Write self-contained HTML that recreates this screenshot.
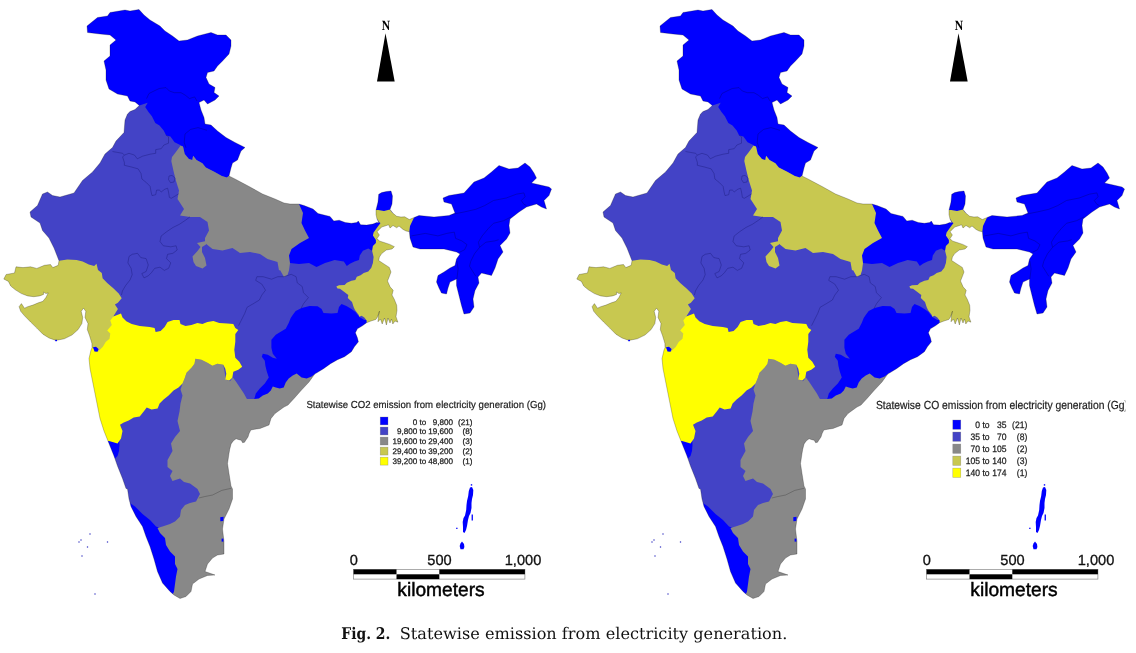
<!DOCTYPE html>
<html><head><meta charset="utf-8"><title>Fig. 2</title>
<style>
html,body{margin:0;padding:0;background:#fff;}
body{width:1136px;height:653px;overflow:hidden;position:relative;font-family:"Liberation Sans",sans-serif;}
svg{position:absolute;left:0;top:0;}
text{text-rendering:geometricPrecision;}
</style></head><body>
<svg width="1136" height="653" viewBox="0 0 1136 653">
<g><mask id="c0" maskUnits="userSpaceOnUse" x="0" y="0" width="568" height="653"><path d="M87,26 L97.5,17.5 L107.5,16 L110,12.5 L125,10 L130,11 L139,9.5 L144,15 L150,20 L160,26 L165,31 L172.5,36 L179,41 L187.5,40 L197.5,36 L211,32.5 L217.5,35 L226,35 L231,40 L231,46 L229,54 L222.5,61 L217.5,66 L214,71 L207.5,72.5 L206,77.5 L209,84 L215,87.5 L214,92.5 L219,96 L215,100 L207.5,104 L204,100 L199,102.5 L201,110 L204,117.5 L205,124 L211,125 L217.5,131 L226,137.5 L235,142.5 L245,147.5 L241,151 L237.5,160 L232.5,163 L231,168 L229,176 L235,179 L250,187 L262.5,194 L275,199 L284,203 L290,204 L299,204 L304,205.5 L313,209 L318,213.5 L326,215.5 L330,216.4 L333.8,221 L339.2,220.2 L345.3,222.5 L351.4,223.3 L356.8,222.5 L358.3,221 L360.6,224.8 L366.7,225.1 L372.9,224 L376.7,222.5 L379,222.8 L377,219 L376,214.5 L376,210 L378,202 L378.7,194.3 L381.7,192.6 L386.3,191.5 L391,191 L392.5,196 L392,204 L390,209.4 L393,213.3 L396.7,216.3 L401,217 L404.7,216.8 L409.3,219.5 L419,215.5 L434,217 L449,215.5 L455,213 L451.5,204 L444,202 L443,198 L449,195.5 L464,193 L474,182 L484,178 L491.5,172 L499,165.5 L509,169 L518,168 L525,163 L530,167 L534,173 L536.5,178 L531.5,183 L549,187 L551.5,189 L549,195.5 L544,200.5 L546.5,209 L541.5,207 L536.5,204 L526.5,207 L519,212 L510,219 L509,225.5 L510,233 L506.5,239 L500,245.5 L503,252 L498,259 L495,268 L491.5,275.5 L481.5,273 L478,277 L479,283 L475,290.5 L473,299 L474,307 L470,313 L464,314 L461.5,305.5 L459,295.5 L456.5,285.5 L456.5,279 L450,282 L448,288 L446.5,294 L441.5,293 L439,288 L436.5,282 L438,275.5 L444,272 L450,268 L455,265.5 L456.5,259 L460,254 L456.5,252 L444,249 L431.5,249 L420,249 L413,247 L410,238 L409.3,231.7 L406,231 L403,229.4 L399,226 L396.7,227.8 L393,225.5 L390,228 L388.6,224.8 L385,226 L381.7,227 L379.4,229.4 L377,231.7 L379.4,235 L377,238.6 L379.4,241 L384,242.5 L389.8,244.4 L394.4,246.7 L392,249 L386.3,250 L381.7,253.6 L379.4,257 L378.7,260.5 L384,264 L389.3,267.4 L391,272 L389.3,276.6 L387.5,281 L390.2,287 L393.2,290.3 L392,295 L394.4,299.5 L396.7,305.3 L397,310.3 L396,316.7 L397.9,322.2 L395,321 L392.8,324 L391.5,319 L390,323 L388,318 L386.4,325 L384.5,318 L382.2,324 L380.5,319 L378,321.8 L378.5,315 L379.5,311.2 L377.5,317 L375.8,319.5 L371,321 L366.6,322.7 L362.4,325.8 L357.4,328.8 L355.4,332.8 L357.4,337.8 L358.4,341.8 L354.4,346.8 L351.4,351.7 L344.5,356.7 L337.5,359.7 L330.5,363.7 L323.5,368.7 L315.6,373.6 L314,375 L309,382 L301.5,390 L294,398.5 L288,405 L284,407 L275,413.5 L271,418.5 L269,425 L260,428.5 L255,429.2 L250.8,430 L249,433.8 L248,437 L245.8,440.2 L244.5,442.3 L242.6,442.7 L241.2,440.2 L238.9,439.7 L236.1,438.8 L233.4,440.7 L231.1,443.9 L229.7,449.4 L229,453.5 L227.5,463.5 L229,473.5 L231,486 L232.5,489 L232.5,499 L229,509 L224,519 L222.5,529 L224,541.5 L224,554 L217.5,555 L212.5,558 L207.5,564 L205,571.5 L215,575 L207.5,575.5 L199,579 L192.5,584 L191,591.5 L186,596.5 L180,598.5 L174,595 L170,591.5 L162.5,583 L157.5,571.5 L154,559 L150,546.5 L146,536.5 L142.5,526.5 L136,516.5 L131,506.5 L129,499 L127.5,489 L126,488.5 L122.5,478.5 L117.5,466 L114,456 L109,443.5 L104,431 L100,418.5 L97.5,406 L95,393.5 L92.5,381 L90,368.5 L89,358.5 L91,350 L92,347.8 L91.9,343.4 L89.6,335.8 L87.3,329.6 L88,323.5 L85,317.4 L85.8,311.3 L83.5,308.2 L81.2,311.3 L82.7,317.4 L81.9,323.5 L78.1,329.6 L72,335 L64.3,338.8 L55.9,340.4 L49,338 L42.9,334.2 L36.8,328.1 L30.6,322 L24.5,315.8 L20.7,311.3 L19.1,306.7 L21.4,303.6 L24.5,308.2 L27.6,306.7 L32.9,305.1 L38.3,302.8 L42.9,301.3 L45.9,297.5 L48.2,292.9 L45.9,293.6 L43.6,292 L43.6,294.4 L39.8,295.9 L33.7,296.7 L27.6,295.9 L21.4,293.6 L15.3,289.8 L10.7,286 L8.4,281.4 L3.8,279.1 L6.1,274.5 L14.5,273 L16,266.8 L23,267.6 L30.6,266.8 L36.8,268.4 L44.4,265.3 L50.5,264.5 L52.8,267.6 L58.2,265.3 L59,260.7 L54,248 L49,238 L42.5,230.5 L40,223 L31,217 L30,212 L37.5,205.5 L42.5,194 L47.5,192 L52.5,195.5 L60,197 L74,193 L82.5,180.5 L92.5,172 L100,163 L105,154 L112.5,147.5 L116,141 L124,132.5 L125,120 L127.5,114 L130,111.6 L135,109.5 L139.3,105.5 L135,101.9 L130,101 L127.5,96 L117.5,94 L109,89 L106,80 L106,70 L104,61 L110,56 L110,45 L116,40 L110,35 L100,34 L87.5,32.5Z" fill="#fff"/></mask><g mask="url(#c0)"><rect x="0" y="0" width="568" height="653" fill="#4343c6"/><path d="M139.3,105.5 L147.7,102.7 L145.2,106.9 L148.5,112 L151.9,116.2 L155.3,122.9 L159.5,125.5 L163.7,130.5 L166.2,135.6 L170.4,136.4 L174.6,142.3 L179.7,144.8 L183,146.5 L184.7,154.1 L188.9,159.1 L192.3,160 L193.1,155.8 L196.5,160 L202.4,163.3 L205.8,167.5 L214.2,171.8 L221.8,176 L226.8,177.6 L232,180 L260,150 L260,0 L60,0 L60,40 L100,90Z" fill="#0000ff"/><path d="M290,200 L390,200 L390,250 L372.1,250.8 L368.3,248.5 L362.9,250.8 L359.8,255.4 L359,260 L354.5,261.5 L349.9,263.8 L346.8,266 L343.8,261.5 L339.2,260.8 L334.6,260 L330,261.5 L325,263 L316.5,267 L309,263 L299,264 L290,263 L280,263Z" fill="#0000ff"/><path d="M292.7,314.9 L295.7,310.9 L301.6,307.9 L309.6,305.9 L317.6,306.3 L321.6,308.9 L323.5,312.9 L331.5,313.5 L337.5,312.9 L339,306.9 L341.5,303.9 L346.4,305.9 L351.4,308.9 L355.4,311.9 L359.4,316.9 L364.4,319.9 L375,319 L375,400 L254.3,410 L254.3,399.1 L255.8,393.5 L259.8,388.6 L264.8,383.6 L268.8,377.6 L266.8,371.6 L265.4,365.7 L264.8,360.7 L261.8,356.7 L262.8,353.7 L267.8,354.7 L272.8,357.7 L276.8,358.7 L272.8,353.7 L271.4,347.7 L271.4,339.8 L275.8,334.8 L280.7,331.8 L285.7,328.8 L288.7,322.9 L290.7,317.9Z" fill="#0000ff"/><path d="M372,185 L400,185 L400,150 L560,150 L560,330 L400,330 L400,240 L372,240Z" fill="#0000ff"/><path d="M120,495 L130,503 L135,506.5 L142.5,514 L150,520 L156,526.5 L160,528 L200,560 L200,610 L120,610Z" fill="#0000ff"/><path d="M100,435 L119,435 L119.5,445 L119,451 L117.5,456 L114.5,459 L100,459Z" fill="#0000ff"/><path d="M171.3,161 L172,157 L175.5,152.4 L180.5,145.7 L183,146.5 L184.7,154.1 L188.9,159.1 L192.3,160 L193.1,155.8 L196.5,160 L202.4,163.3 L205.8,167.5 L214.2,171.8 L221.8,176 L226.8,177.6 L231,174 L240,160 L320,190 L299,204 L303,213 L301.5,223 L305,230.5 L309,238 L300,243 L291.5,249 L289,255.5 L290,263 L289,270.5 L287.5,275 L284,277 L280,270 L279,270.5 L277.5,262 L267.5,259 L260,254 L250,252 L240,253 L232.5,248 L222.5,250.5 L212.5,249 L205,243 L205,238 L209,230.5 L207.5,222 L200,217 L190,217 L180,215.5 L184,209 L177.5,199 L179,190.5 L176,181 L173.5,171Z" fill="#888888"/><path d="M197,243 L200.5,247 L197.5,251 L192.5,256.5 L193.5,262 L196,266 L202.5,268.5 L206.5,265.5 L205,258 L202,252 L202,247 L206,244.5 L206,241Z" fill="#888888"/><path d="M195.4,358.7 L201.4,359.7 L207.4,362.7 L212.4,365.7 L217.4,363.7 L223.3,364.7 L226,379.6 L230,381.2 L232.9,377.6 L235.9,381.6 L239.9,387.6 L243.9,393.5 L246.9,399.1 L254.3,399.1 L258.8,398.5 L262.8,395.5 L267.8,393.5 L270.8,390.6 L272.8,386.6 L275.8,387.6 L279.7,388.6 L283.7,387.6 L285.7,382.6 L288.7,378.6 L292.7,375.6 L296.7,373.6 L301.6,377.6 L306.6,378.6 L311.6,376.6 L315.6,373.6 L330,380 L330,620 L160,620 L172.5,595 L174,591.5 L175,584 L176,576.5 L177.5,569 L175,564 L175,556.5 L170,551.5 L166,545 L165,538 L160,533 L157.5,528 L162.5,526.5 L170,524 L175,521.5 L180,516.5 L181,510 L185,505 L190,503 L196,501.5 L200,494 L197.5,489 L190,483.5 L184,482 L180,478.5 L172.5,481 L170,476 L172.5,471 L167.5,467 L167.5,460 L172.5,451 L171,443.5 L175,437 L180,431 L177.5,421 L179.5,411.5 L180.5,403.5 L182.5,395.6 L180.5,389.6 L182.5,383.6 L184.5,378.7 L186.5,372.7 L191.5,367.7 L194.5,363.7Z" fill="#888888"/><path d="M59,260.7 L67.4,259.5 L76.6,260 L82.7,261.5 L88.8,264.5 L94.2,266 L96.5,263.8 L98,270 L101.8,273 L102.6,278.3 L107.2,283 L113.3,288.3 L118.7,293.6 L121.7,298.2 L117.9,302.8 L114.9,304.4 L117.9,309 L115.6,312.8 L113.3,316.6 L130,330 L130,360 L0,360 L0,250Z" fill="#c8c850"/><path d="M376,210 L378.3,210 L384,211 L390,209.4 L393,213.3 L420,205 L410,226 L409.3,231.7 L410,250 L400,252 L420,340 L366.8,330 L366.6,320.4 L364.3,317.6 L361.6,315.8 L359.3,316.7 L358.8,315 L355,310 L353.8,307.5 L352,302 L347.8,298 L348.3,295 L343.7,291.5 L340,288.7 L337.5,288.5 L336.3,286.5 L339,285.3 L344.6,285 L346.9,282.8 L351.4,280.7 L355.3,280 L356.8,276.8 L360.6,275.3 L363.7,273 L368.3,271.5 L371.3,267.7 L372.9,263 L373.6,257 L372.1,250.8 L372.9,246 L375.9,243 L375.9,240 L372.9,235.5 L373.6,232.4 L377.5,227 L380.5,223 L379.4,222.5 L377,219 L370,214.5Z" fill="#c8c850"/><path d="M91.9,347.8 L97.9,351.8 L102.9,346.8 L105.7,341.9 L109.5,338.8 L110.3,333.5 L107.2,330.4 L111.8,325 L110.3,320.4 L113.3,316.6 L121,313.6 L122.5,317.4 L126.3,321.2 L131.7,323.9 L139.7,325.9 L149.7,326.9 L154.6,327.9 L155.6,331.9 L160.6,330.9 L164.6,326.9 L167.6,321.9 L173.5,319.9 L179.5,319.9 L180.5,323.9 L185.5,325.9 L191.5,324.9 L197.4,322.9 L202.4,323.9 L207.4,321.9 L213.4,320.9 L219.3,322.9 L227.3,323.5 L233.3,323.9 L235.3,327.9 L238.3,329.9 L235.3,333.9 L235.3,341.8 L234.3,349.8 L235.3,357.7 L239.3,361.7 L242.2,366.7 L238.3,369.7 L233.3,371.7 L232.3,377.7 L229.3,380.6 L225.3,379.6 L226.3,373.7 L225.3,368.7 L223.3,364.7 L217.4,363.7 L212.4,365.7 L207.4,362.7 L201.4,359.7 L195.4,358.7 L194.5,363.7 L191.5,367.7 L186.5,372.7 L184.5,378.7 L182.5,383.6 L178.5,387.6 L173.5,390.6 L168.6,395.6 L163.6,399.6 L159.6,403.5 L157.6,408.5 L151.6,409.5 L146.7,407.5 L143.7,411.5 L139.7,416.5 L133.7,417.5 L128.7,420.5 L123.8,422.5 L120,424.7 L122.5,431 L121,438.5 L117.5,443.5 L112.5,442 L109,441 L80,441 L80,347Z" fill="#ffff00"/><path d="M112.5,151.5 L122.6,153.3 L124.4,155.1 L129,153.3 L134.5,155.1 L137.3,158.8 L142.8,156.1 L150.1,154.2 L155.7,153.3 L155.7,149.6 L161.2,148.7 L163.9,145 L168.5,143.2 L168.5,136.8 L165.8,135" fill="none" stroke="#1c1c80" stroke-opacity="0.75" stroke-width="0.6"/><path d="M124.4,155.1 L122.6,157 L124.4,162.5 L124.4,165.3 L131.8,167.1 L138.2,168.9 L141,173.5 L141.9,179 L146.5,182.7 L150.1,186.4 L151.1,191.9 L152,195.6 L155.7,194.7 L156.6,190.1 L159.3,190.1 L161.2,191.9 L164.9,189.2 L167.6,188.2 L168.5,191.9 L169.4,197.4 L171.3,198.3 L175.9,195.6 L178.6,193.8" fill="none" stroke="#1c1c80" stroke-opacity="0.75" stroke-width="0.6"/><path d="M169,176 L172,175.4 L175,178 L174,182 L170.5,182.7 L168.5,179.5 L169,176" fill="none" stroke="#1c1c80" stroke-opacity="0.75" stroke-width="0.6"/><path d="M190,216.8 L185.8,220 L179.4,224.3 L172.9,227.5 L166.5,231.8 L161.1,236.1 L160,241.5 L163.3,245.8 L170.8,246.8 L176.1,245.8 L177.2,250 L172.9,253.3 L167.6,254.3 L166.5,258.6 L170.8,262.9 L168.6,268.3 L164.3,270.4 L160,267.2 L154.7,268.3 L151.5,272.6 L148.3,275.8 L144,277.9 L141.8,273.6 L146.1,271.5 L148.3,265 L146.1,258.6 L140.8,257.6 L137.5,253.3 L132.2,254.3 L129,256.5 L127.9,262.9 L131.1,268.3 L132.2,274.7 L130,280 L125.7,285.4 L122.5,290.8 L121.4,295" fill="none" stroke="#1c1c80" stroke-opacity="0.75" stroke-width="0.6"/><path d="M283.9,276.7 L277.8,276.7 L271.6,279.2 L263.1,276.7 L256.9,276.7 L255.7,280.4 L261.8,284.1 L265.5,290.2 L261.8,295.1 L259.4,300 L253.3,303.7 L247.1,307.3 L244.7,313.5 L241,320.8 L238.6,325.7" fill="none" stroke="#1c1c80" stroke-opacity="0.75" stroke-width="0.6"/><path d="M283.9,276.7 L291.2,274.3 L296.1,276.7 L297.3,282.9 L302.2,286.5 L303.5,292.7 L308.4,297.6 L303.5,303.7 L301,308.6" fill="none" stroke="#1c1c80" stroke-opacity="0.75" stroke-width="0.6"/><path d="M146.6,98.6 L149,93.5 L154,91 L159.2,88.5 L166,87.6 L169.3,91 L174.4,92.7 L181,92.7 L185.3,95.2 L189.5,98.6 L194.6,96.9 L197,101" fill="none" stroke="#000090" stroke-opacity="0.8" stroke-width="0.6"/><path d="M207,130.3 L198,127.6 L190.6,129.4 L185,134 L184.2,142.3 L186,147.8" fill="none" stroke="#000090" stroke-opacity="0.8" stroke-width="0.6"/><path d="M451.8,214.4 L464.5,211.9 L475.8,209.3 L484.7,205.6 L493.5,200.5 L506.2,198 L516.3,194.2 L523.9,192.9 L525.1,196.7 L521.3,200.5 L523.9,204.3 L526.4,205.6" fill="none" stroke="#000090" stroke-opacity="0.8" stroke-width="0.6"/><path d="M411.4,235.9 L425.3,233.4 L437.9,235.9 L446.8,233.4 L454.3,232.1 L455.6,238.4 L461.9,240.9 L467,244.7 L464.5,249.8 L459.4,252.3" fill="none" stroke="#000090" stroke-opacity="0.8" stroke-width="0.6"/><path d="M511.2,216.9 L503.6,220.7 L493.5,223.3 L488.5,228.3 L482.2,235.9 L478.4,242.2 L479.6,247.3 L485.9,242.2 L494.8,240.9 L498.6,239.7" fill="none" stroke="#000090" stroke-opacity="0.8" stroke-width="0.6"/><path d="M479.6,247.3 L474.6,253.6 L470.8,261.2 L469.5,266.2 L475.8,276.3" fill="none" stroke="#000090" stroke-opacity="0.8" stroke-width="0.6"/><path d="M456.9,261.2 L458.1,268.8 L456.9,278.9" fill="none" stroke="#000090" stroke-opacity="0.8" stroke-width="0.6"/><path d="M198.8,498 L205,496.5 L212.6,495 L221.8,490.4 L231,488.3" fill="none" stroke="#444" stroke-opacity="0.7" stroke-width="0.6"/></g><path d="M87,26 L97.5,17.5 L107.5,16 L110,12.5 L125,10 L130,11 L139,9.5 L144,15 L150,20 L160,26 L165,31 L172.5,36 L179,41 L187.5,40 L197.5,36 L211,32.5 L217.5,35 L226,35 L231,40 L231,46 L229,54 L222.5,61 L217.5,66 L214,71 L207.5,72.5 L206,77.5 L209,84 L215,87.5 L214,92.5 L219,96 L215,100 L207.5,104 L204,100 L199,102.5 L201,110 L204,117.5 L205,124 L211,125 L217.5,131 L226,137.5 L235,142.5 L245,147.5 L241,151 L237.5,160 L232.5,163 L231,168 L229,176 L235,179 L250,187 L262.5,194 L275,199 L284,203 L290,204 L299,204 L304,205.5 L313,209 L318,213.5 L326,215.5 L330,216.4 L333.8,221 L339.2,220.2 L345.3,222.5 L351.4,223.3 L356.8,222.5 L358.3,221 L360.6,224.8 L366.7,225.1 L372.9,224 L376.7,222.5 L379,222.8 L377,219 L376,214.5 L376,210 L378,202 L378.7,194.3 L381.7,192.6 L386.3,191.5 L391,191 L392.5,196 L392,204 L390,209.4 L393,213.3 L396.7,216.3 L401,217 L404.7,216.8 L409.3,219.5 L419,215.5 L434,217 L449,215.5 L455,213 L451.5,204 L444,202 L443,198 L449,195.5 L464,193 L474,182 L484,178 L491.5,172 L499,165.5 L509,169 L518,168 L525,163 L530,167 L534,173 L536.5,178 L531.5,183 L549,187 L551.5,189 L549,195.5 L544,200.5 L546.5,209 L541.5,207 L536.5,204 L526.5,207 L519,212 L510,219 L509,225.5 L510,233 L506.5,239 L500,245.5 L503,252 L498,259 L495,268 L491.5,275.5 L481.5,273 L478,277 L479,283 L475,290.5 L473,299 L474,307 L470,313 L464,314 L461.5,305.5 L459,295.5 L456.5,285.5 L456.5,279 L450,282 L448,288 L446.5,294 L441.5,293 L439,288 L436.5,282 L438,275.5 L444,272 L450,268 L455,265.5 L456.5,259 L460,254 L456.5,252 L444,249 L431.5,249 L420,249 L413,247 L410,238 L409.3,231.7 L406,231 L403,229.4 L399,226 L396.7,227.8 L393,225.5 L390,228 L388.6,224.8 L385,226 L381.7,227 L379.4,229.4 L377,231.7 L379.4,235 L377,238.6 L379.4,241 L384,242.5 L389.8,244.4 L394.4,246.7 L392,249 L386.3,250 L381.7,253.6 L379.4,257 L378.7,260.5 L384,264 L389.3,267.4 L391,272 L389.3,276.6 L387.5,281 L390.2,287 L393.2,290.3 L392,295 L394.4,299.5 L396.7,305.3 L397,310.3 L396,316.7 L397.9,322.2 L395,321 L392.8,324 L391.5,319 L390,323 L388,318 L386.4,325 L384.5,318 L382.2,324 L380.5,319 L378,321.8 L378.5,315 L379.5,311.2 L377.5,317 L375.8,319.5 L371,321 L366.6,322.7 L362.4,325.8 L357.4,328.8 L355.4,332.8 L357.4,337.8 L358.4,341.8 L354.4,346.8 L351.4,351.7 L344.5,356.7 L337.5,359.7 L330.5,363.7 L323.5,368.7 L315.6,373.6 L314,375 L309,382 L301.5,390 L294,398.5 L288,405 L284,407 L275,413.5 L271,418.5 L269,425 L260,428.5 L255,429.2 L250.8,430 L249,433.8 L248,437 L245.8,440.2 L244.5,442.3 L242.6,442.7 L241.2,440.2 L238.9,439.7 L236.1,438.8 L233.4,440.7 L231.1,443.9 L229.7,449.4 L229,453.5 L227.5,463.5 L229,473.5 L231,486 L232.5,489 L232.5,499 L229,509 L224,519 L222.5,529 L224,541.5 L224,554 L217.5,555 L212.5,558 L207.5,564 L205,571.5 L215,575 L207.5,575.5 L199,579 L192.5,584 L191,591.5 L186,596.5 L180,598.5 L174,595 L170,591.5 L162.5,583 L157.5,571.5 L154,559 L150,546.5 L146,536.5 L142.5,526.5 L136,516.5 L131,506.5 L129,499 L127.5,489 L126,488.5 L122.5,478.5 L117.5,466 L114,456 L109,443.5 L104,431 L100,418.5 L97.5,406 L95,393.5 L92.5,381 L90,368.5 L89,358.5 L91,350 L92,347.8 L91.9,343.4 L89.6,335.8 L87.3,329.6 L88,323.5 L85,317.4 L85.8,311.3 L83.5,308.2 L81.2,311.3 L82.7,317.4 L81.9,323.5 L78.1,329.6 L72,335 L64.3,338.8 L55.9,340.4 L49,338 L42.9,334.2 L36.8,328.1 L30.6,322 L24.5,315.8 L20.7,311.3 L19.1,306.7 L21.4,303.6 L24.5,308.2 L27.6,306.7 L32.9,305.1 L38.3,302.8 L42.9,301.3 L45.9,297.5 L48.2,292.9 L45.9,293.6 L43.6,292 L43.6,294.4 L39.8,295.9 L33.7,296.7 L27.6,295.9 L21.4,293.6 L15.3,289.8 L10.7,286 L8.4,281.4 L3.8,279.1 L6.1,274.5 L14.5,273 L16,266.8 L23,267.6 L30.6,266.8 L36.8,268.4 L44.4,265.3 L50.5,264.5 L52.8,267.6 L58.2,265.3 L59,260.7 L54,248 L49,238 L42.5,230.5 L40,223 L31,217 L30,212 L37.5,205.5 L42.5,194 L47.5,192 L52.5,195.5 L60,197 L74,193 L82.5,180.5 L92.5,172 L100,163 L105,154 L112.5,147.5 L116,141 L124,132.5 L125,120 L127.5,114 L130,111.6 L135,109.5 L139.3,105.5 L135,101.9 L130,101 L127.5,96 L117.5,94 L109,89 L106,80 L106,70 L104,61 L110,56 L110,45 L116,40 L110,35 L100,34 L87.5,32.5Z" fill="none" stroke="#000" stroke-opacity="0.3" stroke-width="0.8"/><path d="M470,487.5 L472,487 L473.3,490 L473,495 L472,499 L471.5,503 L471.5,508 L470.5,513 L469,516 L468,520 L467,526 L466,530 L464.5,533 L463,532 L463,527 L462.7,522 L463.5,518 L465,515.5 L466.2,510 L466.5,505 L467,501 L468.2,496 L468.8,491Z" fill="#0000ff"/><path d="M462,541.6 L464,544 L464.4,547 L463.5,549.3 L460.5,549.3 L459.7,546 L460.5,543.5Z" fill="#0000ff"/><path d="M93,347.2 L96,346.8 L98.6,349 L97.5,351.8 L94.5,351.5 L93.8,349.5Z" fill="#0000ff"/><rect x="55.2" y="339.8" width="1.8" height="1.4" fill="#0000ff"/><path d="M220.2,517.3 L223.6,516.8 L223.2,521 L220.4,521.2Z" fill="#0000ff"/><rect x="221.6" y="538.6" width="1.8" height="3" fill="#0000ff"/><rect x="471.6" y="514.5" width="1.3" height="6" fill="#0000ff"/><rect x="456.2" y="527.7" width="1.3" height="1.3" fill="#0000ff"/><rect x="470.8" y="484.2" width="1.4" height="1.4" fill="#0000ff"/><circle cx="90" cy="534" r="0.75" fill="#3a3ac4"/><circle cx="81" cy="540" r="0.75" fill="#3a3ac4"/><circle cx="79" cy="542" r="0.75" fill="#3a3ac4"/><circle cx="87.5" cy="547" r="0.75" fill="#3a3ac4"/><circle cx="107.5" cy="542" r="0.75" fill="#3a3ac4"/><circle cx="82" cy="556" r="0.75" fill="#3a3ac4"/><circle cx="95" cy="594" r="0.75" fill="#3a3ac4"/></g>
<g transform="translate(573,0)"><mask id="c1" maskUnits="userSpaceOnUse" x="0" y="0" width="568" height="653"><path d="M87,26 L97.5,17.5 L107.5,16 L110,12.5 L125,10 L130,11 L139,9.5 L144,15 L150,20 L160,26 L165,31 L172.5,36 L179,41 L187.5,40 L197.5,36 L211,32.5 L217.5,35 L226,35 L231,40 L231,46 L229,54 L222.5,61 L217.5,66 L214,71 L207.5,72.5 L206,77.5 L209,84 L215,87.5 L214,92.5 L219,96 L215,100 L207.5,104 L204,100 L199,102.5 L201,110 L204,117.5 L205,124 L211,125 L217.5,131 L226,137.5 L235,142.5 L245,147.5 L241,151 L237.5,160 L232.5,163 L231,168 L229,176 L235,179 L250,187 L262.5,194 L275,199 L284,203 L290,204 L299,204 L304,205.5 L313,209 L318,213.5 L326,215.5 L330,216.4 L333.8,221 L339.2,220.2 L345.3,222.5 L351.4,223.3 L356.8,222.5 L358.3,221 L360.6,224.8 L366.7,225.1 L372.9,224 L376.7,222.5 L379,222.8 L377,219 L376,214.5 L376,210 L378,202 L378.7,194.3 L381.7,192.6 L386.3,191.5 L391,191 L392.5,196 L392,204 L390,209.4 L393,213.3 L396.7,216.3 L401,217 L404.7,216.8 L409.3,219.5 L419,215.5 L434,217 L449,215.5 L455,213 L451.5,204 L444,202 L443,198 L449,195.5 L464,193 L474,182 L484,178 L491.5,172 L499,165.5 L509,169 L518,168 L525,163 L530,167 L534,173 L536.5,178 L531.5,183 L549,187 L551.5,189 L549,195.5 L544,200.5 L546.5,209 L541.5,207 L536.5,204 L526.5,207 L519,212 L510,219 L509,225.5 L510,233 L506.5,239 L500,245.5 L503,252 L498,259 L495,268 L491.5,275.5 L481.5,273 L478,277 L479,283 L475,290.5 L473,299 L474,307 L470,313 L464,314 L461.5,305.5 L459,295.5 L456.5,285.5 L456.5,279 L450,282 L448,288 L446.5,294 L441.5,293 L439,288 L436.5,282 L438,275.5 L444,272 L450,268 L455,265.5 L456.5,259 L460,254 L456.5,252 L444,249 L431.5,249 L420,249 L413,247 L410,238 L409.3,231.7 L406,231 L403,229.4 L399,226 L396.7,227.8 L393,225.5 L390,228 L388.6,224.8 L385,226 L381.7,227 L379.4,229.4 L377,231.7 L379.4,235 L377,238.6 L379.4,241 L384,242.5 L389.8,244.4 L394.4,246.7 L392,249 L386.3,250 L381.7,253.6 L379.4,257 L378.7,260.5 L384,264 L389.3,267.4 L391,272 L389.3,276.6 L387.5,281 L390.2,287 L393.2,290.3 L392,295 L394.4,299.5 L396.7,305.3 L397,310.3 L396,316.7 L397.9,322.2 L395,321 L392.8,324 L391.5,319 L390,323 L388,318 L386.4,325 L384.5,318 L382.2,324 L380.5,319 L378,321.8 L378.5,315 L379.5,311.2 L377.5,317 L375.8,319.5 L371,321 L366.6,322.7 L362.4,325.8 L357.4,328.8 L355.4,332.8 L357.4,337.8 L358.4,341.8 L354.4,346.8 L351.4,351.7 L344.5,356.7 L337.5,359.7 L330.5,363.7 L323.5,368.7 L315.6,373.6 L314,375 L309,382 L301.5,390 L294,398.5 L288,405 L284,407 L275,413.5 L271,418.5 L269,425 L260,428.5 L255,429.2 L250.8,430 L249,433.8 L248,437 L245.8,440.2 L244.5,442.3 L242.6,442.7 L241.2,440.2 L238.9,439.7 L236.1,438.8 L233.4,440.7 L231.1,443.9 L229.7,449.4 L229,453.5 L227.5,463.5 L229,473.5 L231,486 L232.5,489 L232.5,499 L229,509 L224,519 L222.5,529 L224,541.5 L224,554 L217.5,555 L212.5,558 L207.5,564 L205,571.5 L215,575 L207.5,575.5 L199,579 L192.5,584 L191,591.5 L186,596.5 L180,598.5 L174,595 L170,591.5 L162.5,583 L157.5,571.5 L154,559 L150,546.5 L146,536.5 L142.5,526.5 L136,516.5 L131,506.5 L129,499 L127.5,489 L126,488.5 L122.5,478.5 L117.5,466 L114,456 L109,443.5 L104,431 L100,418.5 L97.5,406 L95,393.5 L92.5,381 L90,368.5 L89,358.5 L91,350 L92,347.8 L91.9,343.4 L89.6,335.8 L87.3,329.6 L88,323.5 L85,317.4 L85.8,311.3 L83.5,308.2 L81.2,311.3 L82.7,317.4 L81.9,323.5 L78.1,329.6 L72,335 L64.3,338.8 L55.9,340.4 L49,338 L42.9,334.2 L36.8,328.1 L30.6,322 L24.5,315.8 L20.7,311.3 L19.1,306.7 L21.4,303.6 L24.5,308.2 L27.6,306.7 L32.9,305.1 L38.3,302.8 L42.9,301.3 L45.9,297.5 L48.2,292.9 L45.9,293.6 L43.6,292 L43.6,294.4 L39.8,295.9 L33.7,296.7 L27.6,295.9 L21.4,293.6 L15.3,289.8 L10.7,286 L8.4,281.4 L3.8,279.1 L6.1,274.5 L14.5,273 L16,266.8 L23,267.6 L30.6,266.8 L36.8,268.4 L44.4,265.3 L50.5,264.5 L52.8,267.6 L58.2,265.3 L59,260.7 L54,248 L49,238 L42.5,230.5 L40,223 L31,217 L30,212 L37.5,205.5 L42.5,194 L47.5,192 L52.5,195.5 L60,197 L74,193 L82.5,180.5 L92.5,172 L100,163 L105,154 L112.5,147.5 L116,141 L124,132.5 L125,120 L127.5,114 L130,111.6 L135,109.5 L139.3,105.5 L135,101.9 L130,101 L127.5,96 L117.5,94 L109,89 L106,80 L106,70 L104,61 L110,56 L110,45 L116,40 L110,35 L100,34 L87.5,32.5Z" fill="#fff"/></mask><g mask="url(#c1)"><rect x="0" y="0" width="568" height="653" fill="#4343c6"/><path d="M139.3,105.5 L147.7,102.7 L145.2,106.9 L148.5,112 L151.9,116.2 L155.3,122.9 L159.5,125.5 L163.7,130.5 L166.2,135.6 L170.4,136.4 L174.6,142.3 L179.7,144.8 L183,146.5 L184.7,154.1 L188.9,159.1 L192.3,160 L193.1,155.8 L196.5,160 L202.4,163.3 L205.8,167.5 L214.2,171.8 L221.8,176 L226.8,177.6 L232,180 L260,150 L260,0 L60,0 L60,40 L100,90Z" fill="#0000ff"/><path d="M290,200 L390,200 L390,250 L372.1,250.8 L368.3,248.5 L362.9,250.8 L359.8,255.4 L359,260 L354.5,261.5 L349.9,263.8 L346.8,266 L343.8,261.5 L339.2,260.8 L334.6,260 L330,261.5 L325,263 L316.5,267 L309,263 L299,264 L290,263 L280,263Z" fill="#0000ff"/><path d="M292.7,314.9 L295.7,310.9 L301.6,307.9 L309.6,305.9 L317.6,306.3 L321.6,308.9 L323.5,312.9 L331.5,313.5 L337.5,312.9 L339,306.9 L341.5,303.9 L346.4,305.9 L351.4,308.9 L355.4,311.9 L359.4,316.9 L364.4,319.9 L375,319 L375,400 L254.3,410 L254.3,399.1 L255.8,393.5 L259.8,388.6 L264.8,383.6 L268.8,377.6 L266.8,371.6 L265.4,365.7 L264.8,360.7 L261.8,356.7 L262.8,353.7 L267.8,354.7 L272.8,357.7 L276.8,358.7 L272.8,353.7 L271.4,347.7 L271.4,339.8 L275.8,334.8 L280.7,331.8 L285.7,328.8 L288.7,322.9 L290.7,317.9Z" fill="#0000ff"/><path d="M372,185 L400,185 L400,150 L560,150 L560,330 L400,330 L400,240 L372,240Z" fill="#0000ff"/><path d="M120,495 L130,503 L135,506.5 L142.5,514 L150,520 L156,526.5 L160,528 L200,560 L200,610 L120,610Z" fill="#0000ff"/><path d="M100,435 L119,435 L119.5,445 L119,451 L117.5,456 L114.5,459 L100,459Z" fill="#0000ff"/><path d="M171.3,161 L172,157 L175.5,152.4 L180.5,145.7 L183,146.5 L184.7,154.1 L188.9,159.1 L192.3,160 L193.1,155.8 L196.5,160 L202.4,163.3 L205.8,167.5 L214.2,171.8 L221.8,176 L226.8,177.6 L231,174 L240,160 L320,190 L299,204 L303,213 L301.5,223 L305,230.5 L309,238 L300,243 L291.5,249 L289,255.5 L290,263 L289,270.5 L287.5,275 L284,277 L280,270 L279,270.5 L277.5,262 L267.5,259 L260,254 L250,252 L240,253 L232.5,248 L222.5,250.5 L212.5,249 L205,243 L205,238 L209,230.5 L207.5,222 L200,217 L190,217 L180,215.5 L184,209 L177.5,199 L179,190.5 L176,181 L173.5,171Z" fill="#c8c850"/><path d="M197,243 L200.5,247 L197.5,251 L192.5,256.5 L193.5,262 L196,266 L202.5,268.5 L206.5,265.5 L205,258 L202,252 L202,247 L206,244.5 L206,241Z" fill="#c8c850"/><path d="M195.4,358.7 L201.4,359.7 L207.4,362.7 L212.4,365.7 L217.4,363.7 L223.3,364.7 L226,379.6 L230,381.2 L232.9,377.6 L235.9,381.6 L239.9,387.6 L243.9,393.5 L246.9,399.1 L254.3,399.1 L258.8,398.5 L262.8,395.5 L267.8,393.5 L270.8,390.6 L272.8,386.6 L275.8,387.6 L279.7,388.6 L283.7,387.6 L285.7,382.6 L288.7,378.6 L292.7,375.6 L296.7,373.6 L301.6,377.6 L306.6,378.6 L311.6,376.6 L315.6,373.6 L330,380 L330,620 L160,620 L172.5,595 L174,591.5 L175,584 L176,576.5 L177.5,569 L175,564 L175,556.5 L170,551.5 L166,545 L165,538 L160,533 L157.5,528 L162.5,526.5 L170,524 L175,521.5 L180,516.5 L181,510 L185,505 L190,503 L196,501.5 L200,494 L197.5,489 L190,483.5 L184,482 L180,478.5 L172.5,481 L170,476 L172.5,471 L167.5,467 L167.5,460 L172.5,451 L171,443.5 L175,437 L180,431 L177.5,421 L179.5,411.5 L180.5,403.5 L182.5,395.6 L180.5,389.6 L182.5,383.6 L184.5,378.7 L186.5,372.7 L191.5,367.7 L194.5,363.7Z" fill="#888888"/><path d="M59,260.7 L67.4,259.5 L76.6,260 L82.7,261.5 L88.8,264.5 L94.2,266 L96.5,263.8 L98,270 L101.8,273 L102.6,278.3 L107.2,283 L113.3,288.3 L118.7,293.6 L121.7,298.2 L117.9,302.8 L114.9,304.4 L117.9,309 L115.6,312.8 L113.3,316.6 L130,330 L130,360 L0,360 L0,250Z" fill="#c8c850"/><path d="M376,210 L378.3,210 L384,211 L390,209.4 L393,213.3 L420,205 L410,226 L409.3,231.7 L410,250 L400,252 L420,340 L366.8,330 L366.6,320.4 L364.3,317.6 L361.6,315.8 L359.3,316.7 L358.8,315 L355,310 L353.8,307.5 L352,302 L347.8,298 L348.3,295 L343.7,291.5 L340,288.7 L337.5,288.5 L336.3,286.5 L339,285.3 L344.6,285 L346.9,282.8 L351.4,280.7 L355.3,280 L356.8,276.8 L360.6,275.3 L363.7,273 L368.3,271.5 L371.3,267.7 L372.9,263 L373.6,257 L372.1,250.8 L372.9,246 L375.9,243 L375.9,240 L372.9,235.5 L373.6,232.4 L377.5,227 L380.5,223 L379.4,222.5 L377,219 L370,214.5Z" fill="#c8c850"/><path d="M91.9,347.8 L97.9,351.8 L102.9,346.8 L105.7,341.9 L109.5,338.8 L110.3,333.5 L107.2,330.4 L111.8,325 L110.3,320.4 L113.3,316.6 L121,313.6 L122.5,317.4 L126.3,321.2 L131.7,323.9 L139.7,325.9 L149.7,326.9 L154.6,327.9 L155.6,331.9 L160.6,330.9 L164.6,326.9 L167.6,321.9 L173.5,319.9 L179.5,319.9 L180.5,323.9 L185.5,325.9 L191.5,324.9 L197.4,322.9 L202.4,323.9 L207.4,321.9 L213.4,320.9 L219.3,322.9 L227.3,323.5 L233.3,323.9 L235.3,327.9 L238.3,329.9 L235.3,333.9 L235.3,341.8 L234.3,349.8 L235.3,357.7 L239.3,361.7 L242.2,366.7 L238.3,369.7 L233.3,371.7 L232.3,377.7 L229.3,380.6 L225.3,379.6 L226.3,373.7 L225.3,368.7 L223.3,364.7 L217.4,363.7 L212.4,365.7 L207.4,362.7 L201.4,359.7 L195.4,358.7 L194.5,363.7 L191.5,367.7 L186.5,372.7 L184.5,378.7 L182.5,383.6 L178.5,387.6 L173.5,390.6 L168.6,395.6 L163.6,399.6 L159.6,403.5 L157.6,408.5 L151.6,409.5 L146.7,407.5 L143.7,411.5 L139.7,416.5 L133.7,417.5 L128.7,420.5 L123.8,422.5 L120,424.7 L122.5,431 L121,438.5 L117.5,443.5 L112.5,442 L109,441 L80,441 L80,347Z" fill="#ffff00"/><path d="M112.5,151.5 L122.6,153.3 L124.4,155.1 L129,153.3 L134.5,155.1 L137.3,158.8 L142.8,156.1 L150.1,154.2 L155.7,153.3 L155.7,149.6 L161.2,148.7 L163.9,145 L168.5,143.2 L168.5,136.8 L165.8,135" fill="none" stroke="#1c1c80" stroke-opacity="0.75" stroke-width="0.6"/><path d="M124.4,155.1 L122.6,157 L124.4,162.5 L124.4,165.3 L131.8,167.1 L138.2,168.9 L141,173.5 L141.9,179 L146.5,182.7 L150.1,186.4 L151.1,191.9 L152,195.6 L155.7,194.7 L156.6,190.1 L159.3,190.1 L161.2,191.9 L164.9,189.2 L167.6,188.2 L168.5,191.9 L169.4,197.4 L171.3,198.3 L175.9,195.6 L178.6,193.8" fill="none" stroke="#1c1c80" stroke-opacity="0.75" stroke-width="0.6"/><path d="M169,176 L172,175.4 L175,178 L174,182 L170.5,182.7 L168.5,179.5 L169,176" fill="none" stroke="#1c1c80" stroke-opacity="0.75" stroke-width="0.6"/><path d="M190,216.8 L185.8,220 L179.4,224.3 L172.9,227.5 L166.5,231.8 L161.1,236.1 L160,241.5 L163.3,245.8 L170.8,246.8 L176.1,245.8 L177.2,250 L172.9,253.3 L167.6,254.3 L166.5,258.6 L170.8,262.9 L168.6,268.3 L164.3,270.4 L160,267.2 L154.7,268.3 L151.5,272.6 L148.3,275.8 L144,277.9 L141.8,273.6 L146.1,271.5 L148.3,265 L146.1,258.6 L140.8,257.6 L137.5,253.3 L132.2,254.3 L129,256.5 L127.9,262.9 L131.1,268.3 L132.2,274.7 L130,280 L125.7,285.4 L122.5,290.8 L121.4,295" fill="none" stroke="#1c1c80" stroke-opacity="0.75" stroke-width="0.6"/><path d="M283.9,276.7 L277.8,276.7 L271.6,279.2 L263.1,276.7 L256.9,276.7 L255.7,280.4 L261.8,284.1 L265.5,290.2 L261.8,295.1 L259.4,300 L253.3,303.7 L247.1,307.3 L244.7,313.5 L241,320.8 L238.6,325.7" fill="none" stroke="#1c1c80" stroke-opacity="0.75" stroke-width="0.6"/><path d="M283.9,276.7 L291.2,274.3 L296.1,276.7 L297.3,282.9 L302.2,286.5 L303.5,292.7 L308.4,297.6 L303.5,303.7 L301,308.6" fill="none" stroke="#1c1c80" stroke-opacity="0.75" stroke-width="0.6"/><path d="M146.6,98.6 L149,93.5 L154,91 L159.2,88.5 L166,87.6 L169.3,91 L174.4,92.7 L181,92.7 L185.3,95.2 L189.5,98.6 L194.6,96.9 L197,101" fill="none" stroke="#000090" stroke-opacity="0.8" stroke-width="0.6"/><path d="M207,130.3 L198,127.6 L190.6,129.4 L185,134 L184.2,142.3 L186,147.8" fill="none" stroke="#000090" stroke-opacity="0.8" stroke-width="0.6"/><path d="M451.8,214.4 L464.5,211.9 L475.8,209.3 L484.7,205.6 L493.5,200.5 L506.2,198 L516.3,194.2 L523.9,192.9 L525.1,196.7 L521.3,200.5 L523.9,204.3 L526.4,205.6" fill="none" stroke="#000090" stroke-opacity="0.8" stroke-width="0.6"/><path d="M411.4,235.9 L425.3,233.4 L437.9,235.9 L446.8,233.4 L454.3,232.1 L455.6,238.4 L461.9,240.9 L467,244.7 L464.5,249.8 L459.4,252.3" fill="none" stroke="#000090" stroke-opacity="0.8" stroke-width="0.6"/><path d="M511.2,216.9 L503.6,220.7 L493.5,223.3 L488.5,228.3 L482.2,235.9 L478.4,242.2 L479.6,247.3 L485.9,242.2 L494.8,240.9 L498.6,239.7" fill="none" stroke="#000090" stroke-opacity="0.8" stroke-width="0.6"/><path d="M479.6,247.3 L474.6,253.6 L470.8,261.2 L469.5,266.2 L475.8,276.3" fill="none" stroke="#000090" stroke-opacity="0.8" stroke-width="0.6"/><path d="M456.9,261.2 L458.1,268.8 L456.9,278.9" fill="none" stroke="#000090" stroke-opacity="0.8" stroke-width="0.6"/><path d="M198.8,498 L205,496.5 L212.6,495 L221.8,490.4 L231,488.3" fill="none" stroke="#444" stroke-opacity="0.7" stroke-width="0.6"/></g><path d="M87,26 L97.5,17.5 L107.5,16 L110,12.5 L125,10 L130,11 L139,9.5 L144,15 L150,20 L160,26 L165,31 L172.5,36 L179,41 L187.5,40 L197.5,36 L211,32.5 L217.5,35 L226,35 L231,40 L231,46 L229,54 L222.5,61 L217.5,66 L214,71 L207.5,72.5 L206,77.5 L209,84 L215,87.5 L214,92.5 L219,96 L215,100 L207.5,104 L204,100 L199,102.5 L201,110 L204,117.5 L205,124 L211,125 L217.5,131 L226,137.5 L235,142.5 L245,147.5 L241,151 L237.5,160 L232.5,163 L231,168 L229,176 L235,179 L250,187 L262.5,194 L275,199 L284,203 L290,204 L299,204 L304,205.5 L313,209 L318,213.5 L326,215.5 L330,216.4 L333.8,221 L339.2,220.2 L345.3,222.5 L351.4,223.3 L356.8,222.5 L358.3,221 L360.6,224.8 L366.7,225.1 L372.9,224 L376.7,222.5 L379,222.8 L377,219 L376,214.5 L376,210 L378,202 L378.7,194.3 L381.7,192.6 L386.3,191.5 L391,191 L392.5,196 L392,204 L390,209.4 L393,213.3 L396.7,216.3 L401,217 L404.7,216.8 L409.3,219.5 L419,215.5 L434,217 L449,215.5 L455,213 L451.5,204 L444,202 L443,198 L449,195.5 L464,193 L474,182 L484,178 L491.5,172 L499,165.5 L509,169 L518,168 L525,163 L530,167 L534,173 L536.5,178 L531.5,183 L549,187 L551.5,189 L549,195.5 L544,200.5 L546.5,209 L541.5,207 L536.5,204 L526.5,207 L519,212 L510,219 L509,225.5 L510,233 L506.5,239 L500,245.5 L503,252 L498,259 L495,268 L491.5,275.5 L481.5,273 L478,277 L479,283 L475,290.5 L473,299 L474,307 L470,313 L464,314 L461.5,305.5 L459,295.5 L456.5,285.5 L456.5,279 L450,282 L448,288 L446.5,294 L441.5,293 L439,288 L436.5,282 L438,275.5 L444,272 L450,268 L455,265.5 L456.5,259 L460,254 L456.5,252 L444,249 L431.5,249 L420,249 L413,247 L410,238 L409.3,231.7 L406,231 L403,229.4 L399,226 L396.7,227.8 L393,225.5 L390,228 L388.6,224.8 L385,226 L381.7,227 L379.4,229.4 L377,231.7 L379.4,235 L377,238.6 L379.4,241 L384,242.5 L389.8,244.4 L394.4,246.7 L392,249 L386.3,250 L381.7,253.6 L379.4,257 L378.7,260.5 L384,264 L389.3,267.4 L391,272 L389.3,276.6 L387.5,281 L390.2,287 L393.2,290.3 L392,295 L394.4,299.5 L396.7,305.3 L397,310.3 L396,316.7 L397.9,322.2 L395,321 L392.8,324 L391.5,319 L390,323 L388,318 L386.4,325 L384.5,318 L382.2,324 L380.5,319 L378,321.8 L378.5,315 L379.5,311.2 L377.5,317 L375.8,319.5 L371,321 L366.6,322.7 L362.4,325.8 L357.4,328.8 L355.4,332.8 L357.4,337.8 L358.4,341.8 L354.4,346.8 L351.4,351.7 L344.5,356.7 L337.5,359.7 L330.5,363.7 L323.5,368.7 L315.6,373.6 L314,375 L309,382 L301.5,390 L294,398.5 L288,405 L284,407 L275,413.5 L271,418.5 L269,425 L260,428.5 L255,429.2 L250.8,430 L249,433.8 L248,437 L245.8,440.2 L244.5,442.3 L242.6,442.7 L241.2,440.2 L238.9,439.7 L236.1,438.8 L233.4,440.7 L231.1,443.9 L229.7,449.4 L229,453.5 L227.5,463.5 L229,473.5 L231,486 L232.5,489 L232.5,499 L229,509 L224,519 L222.5,529 L224,541.5 L224,554 L217.5,555 L212.5,558 L207.5,564 L205,571.5 L215,575 L207.5,575.5 L199,579 L192.5,584 L191,591.5 L186,596.5 L180,598.5 L174,595 L170,591.5 L162.5,583 L157.5,571.5 L154,559 L150,546.5 L146,536.5 L142.5,526.5 L136,516.5 L131,506.5 L129,499 L127.5,489 L126,488.5 L122.5,478.5 L117.5,466 L114,456 L109,443.5 L104,431 L100,418.5 L97.5,406 L95,393.5 L92.5,381 L90,368.5 L89,358.5 L91,350 L92,347.8 L91.9,343.4 L89.6,335.8 L87.3,329.6 L88,323.5 L85,317.4 L85.8,311.3 L83.5,308.2 L81.2,311.3 L82.7,317.4 L81.9,323.5 L78.1,329.6 L72,335 L64.3,338.8 L55.9,340.4 L49,338 L42.9,334.2 L36.8,328.1 L30.6,322 L24.5,315.8 L20.7,311.3 L19.1,306.7 L21.4,303.6 L24.5,308.2 L27.6,306.7 L32.9,305.1 L38.3,302.8 L42.9,301.3 L45.9,297.5 L48.2,292.9 L45.9,293.6 L43.6,292 L43.6,294.4 L39.8,295.9 L33.7,296.7 L27.6,295.9 L21.4,293.6 L15.3,289.8 L10.7,286 L8.4,281.4 L3.8,279.1 L6.1,274.5 L14.5,273 L16,266.8 L23,267.6 L30.6,266.8 L36.8,268.4 L44.4,265.3 L50.5,264.5 L52.8,267.6 L58.2,265.3 L59,260.7 L54,248 L49,238 L42.5,230.5 L40,223 L31,217 L30,212 L37.5,205.5 L42.5,194 L47.5,192 L52.5,195.5 L60,197 L74,193 L82.5,180.5 L92.5,172 L100,163 L105,154 L112.5,147.5 L116,141 L124,132.5 L125,120 L127.5,114 L130,111.6 L135,109.5 L139.3,105.5 L135,101.9 L130,101 L127.5,96 L117.5,94 L109,89 L106,80 L106,70 L104,61 L110,56 L110,45 L116,40 L110,35 L100,34 L87.5,32.5Z" fill="none" stroke="#000" stroke-opacity="0.3" stroke-width="0.8"/><path d="M470,487.5 L472,487 L473.3,490 L473,495 L472,499 L471.5,503 L471.5,508 L470.5,513 L469,516 L468,520 L467,526 L466,530 L464.5,533 L463,532 L463,527 L462.7,522 L463.5,518 L465,515.5 L466.2,510 L466.5,505 L467,501 L468.2,496 L468.8,491Z" fill="#0000ff"/><path d="M462,541.6 L464,544 L464.4,547 L463.5,549.3 L460.5,549.3 L459.7,546 L460.5,543.5Z" fill="#0000ff"/><path d="M93,347.2 L96,346.8 L98.6,349 L97.5,351.8 L94.5,351.5 L93.8,349.5Z" fill="#0000ff"/><rect x="55.2" y="339.8" width="1.8" height="1.4" fill="#0000ff"/><path d="M220.2,517.3 L223.6,516.8 L223.2,521 L220.4,521.2Z" fill="#0000ff"/><rect x="221.6" y="538.6" width="1.8" height="3" fill="#0000ff"/><rect x="471.6" y="514.5" width="1.3" height="6" fill="#0000ff"/><rect x="456.2" y="527.7" width="1.3" height="1.3" fill="#0000ff"/><rect x="470.8" y="484.2" width="1.4" height="1.4" fill="#0000ff"/><circle cx="90" cy="534" r="0.75" fill="#3a3ac4"/><circle cx="81" cy="540" r="0.75" fill="#3a3ac4"/><circle cx="79" cy="542" r="0.75" fill="#3a3ac4"/><circle cx="87.5" cy="547" r="0.75" fill="#3a3ac4"/><circle cx="107.5" cy="542" r="0.75" fill="#3a3ac4"/><circle cx="82" cy="556" r="0.75" fill="#3a3ac4"/><circle cx="95" cy="594" r="0.75" fill="#3a3ac4"/></g>
<text x="381.8" y="30.2" font-family="Liberation Serif,serif" font-weight="bold" font-size="14" textLength="8.4" lengthAdjust="spacingAndGlyphs" fill="#000">N</text><path d="M385.5,33.3 L377,81.6 L394.7,81.6Z" fill="#000"/><text x="954.8" y="30.2" font-family="Liberation Serif,serif" font-weight="bold" font-size="14" textLength="8.4" lengthAdjust="spacingAndGlyphs" fill="#000">N</text><path d="M958.5,33.3 L950,81.6 L967.7,81.6Z" fill="#000"/><text x="306.4" y="407.6" font-family="Liberation Sans,sans-serif" font-size="10.2" fill="#1c1c1c" stroke="#1c1c1c" stroke-width="0.2" textLength="239.6" lengthAdjust="spacingAndGlyphs">Statewise CO2 emission from electricity generation (Gg)</text><rect x="380.2" y="417" width="7.8" height="7.9" fill="#0000ff" stroke="#777" stroke-opacity="0.6" stroke-width="0.5"/><g font-family="Liberation Sans,sans-serif" font-size="8.1" fill="#1c1c1c" stroke="#1c1c1c" stroke-width="0.25"><text x="417.2" y="424.5" text-anchor="end">0</text><text x="419.4" y="424.5">to</text><text x="453.1" y="424.5" text-anchor="end">9,800</text><text x="472.4" y="424.5" text-anchor="end">(21)</text></g><rect x="380.2" y="427.05" width="7.8" height="7.9" fill="#4343c6" stroke="#777" stroke-opacity="0.6" stroke-width="0.5"/><g font-family="Liberation Sans,sans-serif" font-size="8.1" fill="#1c1c1c" stroke="#1c1c1c" stroke-width="0.25"><text x="417.2" y="434.48" text-anchor="end">9,800</text><text x="419.4" y="434.48">to</text><text x="453.1" y="434.48" text-anchor="end">19,600</text><text x="472.4" y="434.48" text-anchor="end">(8)</text></g><rect x="380.2" y="437.1" width="7.8" height="7.9" fill="#888888" stroke="#777" stroke-opacity="0.6" stroke-width="0.5"/><g font-family="Liberation Sans,sans-serif" font-size="8.1" fill="#1c1c1c" stroke="#1c1c1c" stroke-width="0.25"><text x="417.2" y="444.46" text-anchor="end">19,600</text><text x="419.4" y="444.46">to</text><text x="453.1" y="444.46" text-anchor="end">29,400</text><text x="472.4" y="444.46" text-anchor="end">(3)</text></g><rect x="380.2" y="447.15" width="7.8" height="7.9" fill="#c8c850" stroke="#777" stroke-opacity="0.6" stroke-width="0.5"/><g font-family="Liberation Sans,sans-serif" font-size="8.1" fill="#1c1c1c" stroke="#1c1c1c" stroke-width="0.25"><text x="417.2" y="454.44" text-anchor="end">29,400</text><text x="419.4" y="454.44">to</text><text x="453.1" y="454.44" text-anchor="end">39,200</text><text x="472.4" y="454.44" text-anchor="end">(2)</text></g><rect x="380.2" y="457.2" width="7.8" height="7.9" fill="#ffff00" stroke="#777" stroke-opacity="0.6" stroke-width="0.5"/><g font-family="Liberation Sans,sans-serif" font-size="8.1" fill="#1c1c1c" stroke="#1c1c1c" stroke-width="0.25"><text x="417.2" y="464.42" text-anchor="end">39,200</text><text x="419.4" y="464.42">to</text><text x="453.1" y="464.42" text-anchor="end">48,800</text><text x="472.4" y="464.42" text-anchor="end">(1)</text></g><clipPath id="tc"><rect x="860" y="395" width="265.3" height="20"/></clipPath><text clip-path="url(#tc)" x="875.9" y="408.9" font-family="Liberation Sans,sans-serif" font-size="11.7" fill="#1c1c1c" stroke="#1c1c1c" stroke-width="0.2" textLength="252.1" lengthAdjust="spacingAndGlyphs">Statewise CO emission from electricity generation (Gg)</text><rect x="952.8" y="420" width="8" height="9.3" fill="#0000ff" stroke="#777" stroke-opacity="0.6" stroke-width="0.5"/><g font-family="Liberation Sans,sans-serif" font-size="9.3" fill="#1c1c1c" stroke="#1c1c1c" stroke-width="0.25" transform="translate(0,428.4) scale(0.92,1)"><text x="1065.33" y="0" text-anchor="end">0</text><text x="1067.93" y="0">to</text><text x="1094.02" y="0" text-anchor="end">35</text><text x="1116.63" y="0" text-anchor="end">(21)</text></g><rect x="952.8" y="432.03" width="8" height="9.3" fill="#4343c6" stroke="#777" stroke-opacity="0.6" stroke-width="0.5"/><g font-family="Liberation Sans,sans-serif" font-size="9.3" fill="#1c1c1c" stroke="#1c1c1c" stroke-width="0.25" transform="translate(0,440.38) scale(0.92,1)"><text x="1065.33" y="0" text-anchor="end">35</text><text x="1067.93" y="0">to</text><text x="1094.02" y="0" text-anchor="end">70</text><text x="1116.63" y="0" text-anchor="end">(8)</text></g><rect x="952.8" y="444.06" width="8" height="9.3" fill="#888888" stroke="#777" stroke-opacity="0.6" stroke-width="0.5"/><g font-family="Liberation Sans,sans-serif" font-size="9.3" fill="#1c1c1c" stroke="#1c1c1c" stroke-width="0.25" transform="translate(0,452.36) scale(0.92,1)"><text x="1065.33" y="0" text-anchor="end">70</text><text x="1067.93" y="0">to</text><text x="1094.02" y="0" text-anchor="end">105</text><text x="1116.63" y="0" text-anchor="end">(2)</text></g><rect x="952.8" y="456.09" width="8" height="9.3" fill="#c8c850" stroke="#777" stroke-opacity="0.6" stroke-width="0.5"/><g font-family="Liberation Sans,sans-serif" font-size="9.3" fill="#1c1c1c" stroke="#1c1c1c" stroke-width="0.25" transform="translate(0,464.34) scale(0.92,1)"><text x="1065.33" y="0" text-anchor="end">105</text><text x="1067.93" y="0">to</text><text x="1094.02" y="0" text-anchor="end">140</text><text x="1116.63" y="0" text-anchor="end">(3)</text></g><rect x="952.8" y="468.12" width="8" height="9.3" fill="#ffff00" stroke="#777" stroke-opacity="0.6" stroke-width="0.5"/><g font-family="Liberation Sans,sans-serif" font-size="9.3" fill="#1c1c1c" stroke="#1c1c1c" stroke-width="0.25" transform="translate(0,476.32) scale(0.92,1)"><text x="1065.33" y="0" text-anchor="end">140</text><text x="1067.93" y="0">to</text><text x="1094.02" y="0" text-anchor="end">174</text><text x="1116.63" y="0" text-anchor="end">(1)</text></g><rect x="353.6" y="569.4" width="171.3" height="9.7" fill="#fff" stroke="#888" stroke-width="0.7"/><rect x="353.6" y="569.4" width="42.9" height="4.9" fill="#000"/><rect x="396.5" y="574.3" width="42.8" height="4.8" fill="#000"/><rect x="439.3" y="569.4" width="85.6" height="4.9" fill="#000"/><g font-family="Liberation Sans,sans-serif" font-size="14.6" fill="#111" stroke="#111" stroke-width="0.3" text-anchor="middle"><text x="353.9" y="565.2">0</text><text x="439.5" y="565.2">500</text><text x="523" y="565.2">1,000</text></g><text x="441" y="595.6" font-family="Liberation Sans,sans-serif" font-size="19.2" fill="#000" stroke="#000" stroke-width="0.45" text-anchor="middle">kilometers</text><rect x="926.6" y="569.4" width="171.3" height="9.7" fill="#fff" stroke="#888" stroke-width="0.7"/><rect x="926.6" y="569.4" width="42.9" height="4.9" fill="#000"/><rect x="969.5" y="574.3" width="42.8" height="4.8" fill="#000"/><rect x="1012.3" y="569.4" width="85.6" height="4.9" fill="#000"/><g font-family="Liberation Sans,sans-serif" font-size="14.6" fill="#111" stroke="#111" stroke-width="0.3" text-anchor="middle"><text x="926.9" y="565.2">0</text><text x="1012.5" y="565.2">500</text><text x="1096" y="565.2">1,000</text></g><text x="1014" y="595.6" font-family="Liberation Sans,sans-serif" font-size="19.2" fill="#000" stroke="#000" stroke-width="0.45" text-anchor="middle">kilometers</text><text x="341.3" y="638.7" font-family="DejaVu Serif,Liberation Serif,serif" font-weight="bold" font-size="16.1" fill="#111" textLength="49.1" lengthAdjust="spacingAndGlyphs">Fig. 2.</text><text x="399.8" y="638.7" font-family="DejaVu Serif,Liberation Serif,serif" font-size="16.1" fill="#111" textLength="387.5" lengthAdjust="spacingAndGlyphs">Statewise emission from electricity generation.</text>
</svg>
</body></html>
